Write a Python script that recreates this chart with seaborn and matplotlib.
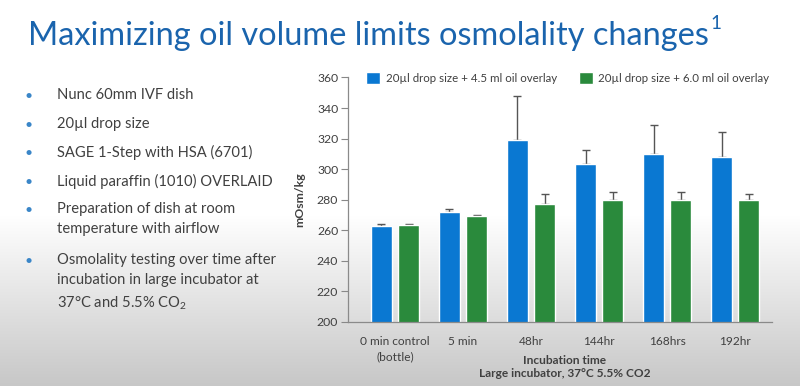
import numpy as np
import pandas as pd
import matplotlib
matplotlib.use("Agg")
import matplotlib.pyplot as plt
import seaborn as sns

# ---- data ----
categories = ["0 min control\n(bottle)", "5 min", "48hr", "144hr", "168hrs", "192hr"]
series_names = ["20µl drop size + 4.5 ml oil overlay", "20µl drop size + 6.0 ml oil overlay"]
blue_vals = [262.8, 272.2, 319.3, 303.7, 310.1, 308.0]
green_vals = [263.3, 269.3, 277.0, 280.0, 280.0, 280.0]
blue_err = [1.5, 1.9, 28.6, 8.9, 18.6, 16.5]
green_err = [0.6, 0.5, 6.7, 5.0, 5.0, 3.5]
y_ticks = [200, 220, 240, 260, 280, 300, 320, 340, 360]

bullets = [
    "Nunc 60mm IVF dish",
    "20µl drop size",
    "SAGE 1-Step with HSA (6701)",
    "Liquid paraffin (1010) OVERLAID",
    "Preparation of dish at room\ntemperature with airflow",
    "Osmolality testing over time after\nincubation in large incubator at\n37°C and 5.5% CO$_2$",
]

sns.set_theme(style="white")
FONT = ["Lato", "DejaVu Sans"]
plt.rcParams["font.family"] = FONT
plt.rcParams["mathtext.fontset"] = "custom"
plt.rcParams["mathtext.rm"] = "Lato"

BLUE = "#0a78d2"
GREEN = "#2a8a3c"
TXT = "#404040"
TITLE = "#1a64ad"

W, H = 800, 386
fig = plt.figure(figsize=(W / 100, H / 100), dpi=100)

# background gradient
bg = fig.add_axes([0, 0, 1, 1], zorder=-10)
rows = np.arange(H)
vals = np.where(rows < 215, 1.0, 1.0 - (rows - 215) / (H - 215) * 0.22)
img = np.repeat(vals[:, None], 10, axis=1)
bg.imshow(np.dstack([img, img, img]), aspect="auto", extent=[0, 1, 0, 1], origin="upper")
bg.set_axis_off()

# title
title = fig.text(28 / W, 1 - 45 / H, "Maximizing oil volume limits osmolality changes",
                 fontsize=23.4, color=TITLE, va="baseline", ha="left")
fig.canvas.draw()
bb = title.get_window_extent()
fig.text(bb.x1 / W + 2 / W, 1 - 29 / H, "1", fontsize=13.5, color=TITLE, va="baseline", ha="left")

# bullets
ys_first = [96, 125, 153, 182, 210, 261]
for yb, txt in zip(ys_first, bullets):
    fig.text(29 / W, 1 - yb / H, "•", fontsize=10, color="#3a86c8", va="center", ha="center")
    fig.text(57 / W, 1 - (yb - 8) / H, txt, fontsize=10.6, color=TXT, va="top", ha="left",
             linespacing=1.55)

# chart
df = pd.DataFrame({
    "cat": categories * 2,
    "series": [series_names[0]] * len(categories) + [series_names[1]] * len(categories),
    "val": blue_vals + green_vals,
})
ax = fig.add_axes([348 / W, 1 - 322 / H, (772 - 348) / W, (322 - 77.5) / H])
ax.set_facecolor("none")
sns.barplot(data=df, x="cat", y="val", hue="series", palette=[BLUE, GREEN],
            gap=0.22, width=0.8, errorbar=None, ax=ax, saturation=1, zorder=2)

# error bars (upper only) from the bar patches
errs = {series_names[0]: blue_err, series_names[1]: green_err}
for cont, name in zip(ax.containers, series_names):
    xs = [p.get_x() + p.get_width() / 2 for p in cont]
    hs = [p.get_height() + p.get_y() for p in cont]
    e = errs[name]
    ax.errorbar(xs, hs, yerr=[[0] * len(e), e], fmt="none", ecolor="#555555",
                elinewidth=1, capsize=3, capthick=1, zorder=1)

ax.set_ylim(200, 360)
ax.set_xlim(-0.69, 5.54)
ax.set_yticks(y_ticks)
ax.tick_params(axis="y", labelsize=8.8, colors=TXT, length=5, width=0.8, left=True,
               direction="out", pad=2)
ax.tick_params(axis="y", color="#888888")
ax.tick_params(axis="x", labelsize=8.6, colors=TXT, length=0, pad=10)
for lbl in ax.get_xticklabels():
    lbl.set_linespacing(1.45)
for s in ["top", "right"]:
    ax.spines[s].set_visible(False)
for s in ["left", "bottom"]:
    ax.spines[s].set_color("#8a8a8a")
    ax.spines[s].set_linewidth(0.9)
ax.set_ylabel("mOsm/kg", fontsize=8.8, fontweight="bold", color=TXT)
ax.yaxis.set_label_coords((305 - 348) / (772 - 348), 0.5)
ax.set_xlabel("Incubation time\nLarge incubator, 37°C 5.5% CO2", fontsize=8.6, fontweight="bold",
              color=TXT, linespacing=1.25, va="center")
ax.xaxis.set_label_coords((565 - 348) / (772 - 348), -(367 - 322) / (322 - 77.5))

leg = ax.legend(loc="center left", bbox_to_anchor=(0.018, (322 - 78) / (322 - 77.5)), ncol=2,
                frameon=False, fontsize=8.3, handlelength=1.25, handleheight=1.3,
                columnspacing=1.9, handletextpad=0.45)
for t in leg.get_texts():
    t.set_color(TXT)

fig.savefig("out.png", dpi=100)
